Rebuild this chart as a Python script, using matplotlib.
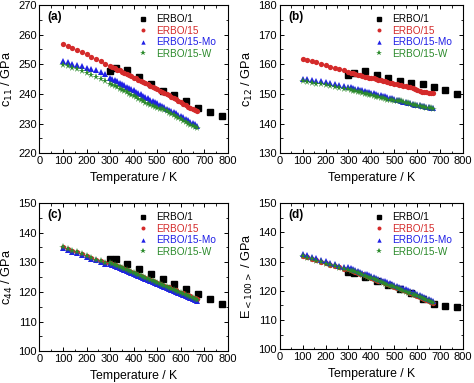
import matplotlib
matplotlib.use("Agg")
import matplotlib.pyplot as plt
from matplotlib.ticker import MultipleLocator

plt.rcParams['font.family'] = ['Liberation Sans', 'DejaVu Sans']

# temperatures (K)
T_low = [100, 120, 140, 160, 180, 200, 220, 240, 260, 280]
T_high = list(range(300, 680, 10))
T_erbo1 = [298, 323, 373, 423, 473, 523, 573, 623, 673, 723, 773]

# (a) c11
c11_erbo1 = [247.8, 248.8, 248.0, 245.8, 243.3, 241.0, 239.5, 237.7, 235.2, 234.0, 232.5]
c11_15_low = [256.8, 256.2, 255.6, 254.9, 254.2, 253.4, 252.6, 251.8, 251.0, 250.1]
c11_15_high = [249.3, 249.0, 248.6, 248.2, 247.9, 247.5, 247.1, 246.7, 246.3, 245.9,
               245.5, 245.2, 244.8, 244.4, 244.0, 243.6, 243.2, 242.8, 242.3, 241.9,
               241.5, 241.1, 240.7, 240.3, 239.9, 239.5, 239.1, 238.6, 238.2, 237.7,
               237.2, 236.7, 236.2, 235.7, 235.3, 234.9, 234.5, 234.1]
c11_mo_low = [251.0, 250.6, 250.2, 249.8, 249.3, 248.9, 248.4, 247.9, 247.4, 246.8]
c11_mo_high = [245.5, 245.1, 244.6, 244.2, 243.8, 243.4, 242.9, 242.5, 242.1, 241.6,
               241.2, 240.8, 240.3, 239.9, 239.4, 239.0, 238.6, 238.1, 237.7, 237.2,
               236.8, 236.3, 235.9, 235.5, 235.0, 234.6, 234.2, 233.8, 233.4, 233.0,
               232.6, 232.1, 231.6, 231.1, 230.6, 230.2, 229.7, 229.3]
c11_w_low = [249.6, 249.3, 248.8, 248.3, 247.8, 247.2, 246.5, 245.8, 245.0, 244.3]
c11_w_high = [243.5, 243.1, 242.7, 242.2, 241.8, 241.4, 240.9, 240.5, 240.1, 239.6,
              239.2, 238.8, 238.4, 237.9, 237.5, 237.1, 236.7, 236.3, 235.9, 235.5,
              235.1, 234.8, 234.9, 234.7, 234.2, 233.7, 233.2, 232.8, 232.3, 231.8,
              231.4, 230.9, 230.5, 230.0, 229.6, 229.2, 228.8, 228.4]

# (b) c12
c12_erbo1 = [156.5, 157.2, 157.8, 156.3, 155.4, 154.4, 153.8, 153.5, 152.2, 151.4, 150.1]
c12_15_low = [161.8, 161.4, 161.0, 160.6, 160.2, 159.7, 159.2, 158.8, 158.3, 157.9]
c12_15_high = [157.5, 157.2, 157.0, 156.8, 156.5, 156.3, 156.0, 155.8, 155.6, 155.5,
               155.4, 155.2, 155.0, 154.8, 154.6, 154.4, 154.2, 154.0, 153.8, 153.7,
               153.5, 153.3, 153.1, 153.0, 152.8, 152.6, 152.4, 152.2, 151.9, 151.6,
               151.3, 151.0, 150.8, 150.6, 150.5, 150.4, 150.3, 150.2]
c12_mo_low = [155.1, 154.9, 154.7, 154.4, 154.2, 153.9, 153.6, 153.3, 153.0, 152.7]
c12_mo_high = [152.4, 152.2, 152.0, 151.8, 151.6, 151.4, 151.2, 151.0, 150.8, 150.6,
               150.4, 150.2, 150.0, 149.8, 149.6, 149.4, 149.2, 149.0, 148.7, 148.5,
               148.3, 148.1, 147.9, 147.6, 147.4, 147.2, 147.0, 146.8, 146.6, 146.4,
               146.3, 146.1, 145.9, 145.8, 145.6, 145.5, 145.4, 145.3]
c12_w_low = [154.2, 154.0, 153.8, 153.5, 153.3, 153.0, 152.7, 152.4, 152.1, 151.8]
c12_w_high = [151.5, 151.3, 151.1, 150.9, 150.7, 150.5, 150.3, 150.1, 149.9, 149.7,
              149.5, 149.3, 149.1, 148.9, 148.7, 148.5, 148.3, 148.1, 147.9, 147.8,
              147.6, 147.6, 147.7, 147.5, 147.2, 147.0, 146.8, 146.5, 146.3, 146.1,
              145.9, 145.8, 145.6, 145.5, 145.3, 145.2, 145.1, 145.0]

# (c) c44
c44_erbo1 = [131.2, 131.0, 129.4, 127.7, 126.0, 124.2, 122.6, 120.9, 119.3, 117.6, 116.0]
c44_15_low = [135.0, 134.4, 133.9, 133.3, 132.7, 132.1, 131.5, 130.9, 130.3, 129.8]
c44_15_high = [129.8, 129.5, 129.1, 128.8, 128.5, 128.1, 127.8, 127.5, 127.1, 126.8,
               126.5, 126.1, 125.8, 125.5, 125.1, 124.8, 124.5, 124.1, 123.8, 123.5,
               123.1, 122.8, 122.5, 122.1, 121.8, 121.5, 121.1, 120.8, 120.5, 120.1,
               119.8, 119.5, 119.1, 118.8, 118.5, 118.1, 117.8, 117.5]
c44_mo_low = [134.8, 134.2, 133.6, 133.0, 132.4, 131.8, 131.2, 130.6, 130.0, 129.5]
c44_mo_high = [129.3, 129.0, 128.6, 128.3, 128.0, 127.6, 127.3, 127.0, 126.6, 126.3,
               126.0, 125.6, 125.3, 125.0, 124.6, 124.3, 124.0, 123.6, 123.3, 123.0,
               122.6, 122.3, 122.0, 121.6, 121.3, 121.0, 120.6, 120.3, 120.0, 119.6,
               119.3, 119.0, 118.6, 118.3, 118.0, 117.6, 117.3, 117.0]
c44_w_low = [135.0, 134.5, 133.9, 133.3, 132.7, 132.1, 131.5, 130.9, 130.3, 129.8]
c44_w_high = [129.7, 129.4, 129.1, 128.7, 128.4, 128.1, 127.7, 127.4, 127.1, 126.7,
              126.4, 126.1, 125.7, 125.4, 125.1, 124.7, 124.4, 124.1, 123.7, 123.4,
              123.1, 122.7, 122.4, 122.1, 121.7, 121.4, 121.1, 120.7, 120.4, 120.1,
              119.7, 119.4, 119.1, 118.7, 118.4, 118.1, 117.7, 117.4]

# (d) E<100>
e_erbo1 = [126.3, 126.0, 124.8, 123.4, 122.1, 120.6, 119.1, 117.2, 115.4, 114.9, 114.5]
e_15_low = [131.9, 131.4, 130.9, 130.4, 129.9, 129.4, 128.9, 128.5, 128.0, 127.6]
e_15_high = [127.4, 127.1, 126.8, 126.5, 126.2, 125.9, 125.6, 125.3, 125.0, 124.7,
             124.4, 124.1, 123.8, 123.5, 123.2, 122.9, 122.6, 122.3, 122.0, 121.7,
             121.4, 121.1, 120.8, 120.5, 120.2, 119.9, 119.6, 119.3, 118.9, 118.6,
             118.3, 118.0, 117.6, 117.3, 117.0, 116.6, 116.3, 115.9]
e_mo_low = [132.6, 132.1, 131.6, 131.1, 130.6, 130.1, 129.6, 129.1, 128.6, 128.2]
e_mo_high = [128.0, 127.7, 127.4, 127.1, 126.8, 126.5, 126.2, 125.9, 125.6, 125.3,
             125.0, 124.7, 124.4, 124.1, 123.8, 123.5, 123.2, 122.9, 122.6, 122.3,
             122.0, 121.7, 121.4, 121.1, 120.8, 120.5, 120.2, 119.9, 119.5, 119.2,
             118.9, 118.6, 118.2, 117.9, 117.6, 117.2, 116.9, 116.5]
e_w_low = [131.8, 131.3, 130.8, 130.3, 129.8, 129.3, 128.8, 128.4, 127.9, 127.5]
e_w_high = [127.2, 126.9, 126.6, 126.3, 126.0, 125.7, 125.4, 125.1, 124.8, 124.5,
            124.2, 123.9, 123.6, 123.3, 123.0, 122.7, 122.4, 122.1, 121.8, 121.5,
            121.2, 120.9, 120.6, 120.3, 120.0, 119.7, 119.4, 119.1, 118.7, 118.4,
            118.1, 117.8, 117.4, 117.1, 116.8, 116.4, 116.1, 115.7]

RED = '#d42a2a'
BLUE = '#1f1fe6'
GREEN = '#2b8a2b'

panels = [
    ('(a)', r'c$_{11}$ / GPa', (220, 270), c11_erbo1,
     (c11_15_low, c11_15_high), (c11_mo_low, c11_mo_high), (c11_w_low, c11_w_high)),
    ('(b)', r'c$_{12}$ / GPa', (130, 180), c12_erbo1,
     (c12_15_low, c12_15_high), (c12_mo_low, c12_mo_high), (c12_w_low, c12_w_high)),
    ('(c)', r'c$_{44}$ / GPa', (100, 150), c44_erbo1,
     (c44_15_low, c44_15_high), (c44_mo_low, c44_mo_high), (c44_w_low, c44_w_high)),
    ('(d)', r'E$_{{<}100{>}}$ / GPa', (100, 150), e_erbo1,
     (e_15_low, e_15_high), (e_mo_low, e_mo_high), (e_w_low, e_w_high)),
]

# axes rectangles in figure fractions
rects = [
    [0.083, 0.600, 0.398, 0.387],
    [0.590, 0.600, 0.387, 0.387],
    [0.083, 0.083, 0.398, 0.387],
    [0.590, 0.088, 0.387, 0.382],
]

fig = plt.figure(figsize=(4.74, 3.83), dpi=100)

for rect, (tag, ylabel, ylim, erbo1, s15, smo, sw) in zip(rects, panels):
    ax = fig.add_axes(rect)
    ax.plot(T_erbo1, erbo1, 's', color='black', ms=4.5, label='ERBO/1')
    ax.plot(T_low + T_high, s15[0] + s15[1], 'o', color=RED, ms=3.8, mew=0, label='ERBO/15')
    ax.plot(T_low + T_high, smo[0] + smo[1], '^', color=BLUE, ms=4.2, mew=0, label='ERBO/15-Mo')
    ax.plot(T_low + T_high, sw[0] + sw[1], '*', color=GREEN, ms=5.5, mew=0, label='ERBO/15-W')

    ax.set_xlim(0, 800)
    ax.set_ylim(*ylim)
    ax.xaxis.set_major_locator(MultipleLocator(100))
    ax.xaxis.set_minor_locator(MultipleLocator(50))
    ax.yaxis.set_major_locator(MultipleLocator(10))
    ax.yaxis.set_minor_locator(MultipleLocator(5))
    ax.tick_params(which='both', direction='in', top=True, right=True, labelsize=8, pad=2)
    ax.tick_params(which='major', length=3, width=0.7)
    ax.tick_params(which='minor', length=1.8, width=0.6)
    for sp in ax.spines.values():
        sp.set_linewidth(0.8)
    ax.set_xlabel('Temperature / K', fontsize=8.8, labelpad=4)
    ax.set_ylabel(ylabel, fontsize=9.2, labelpad=2)
    ax.text(0.045, 0.92, tag, transform=ax.transAxes, fontsize=8.5, fontweight='bold',
            va='center', ha='left')

    leg = ax.legend(loc='upper right', bbox_to_anchor=(0.975, 0.985), frameon=False,
                    fontsize=7.2, handletextpad=0.8, handlelength=1.0, labelspacing=0.15,
                    borderaxespad=0.3, markerscale=0.75)
    for txt, col in zip(leg.get_texts(), ['black', RED, BLUE, GREEN]):
        txt.set_color(col)

fig.savefig('out.png', dpi=100)
